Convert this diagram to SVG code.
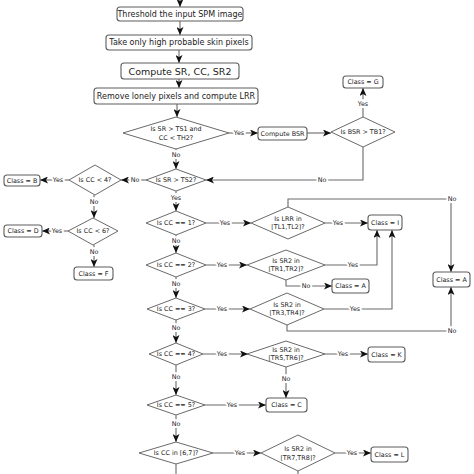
<svg xmlns="http://www.w3.org/2000/svg" width="474" height="474" viewBox="0 0 474 474">
<style>
.bx{fill:#fff;stroke:#5c5c5c;stroke-width:1.1}
.dm{fill:#fff;stroke:#6a6a6a;stroke-width:1}
.ln{fill:none;stroke:#6a6a6a;stroke-width:1.1}
.t{font-family:"DejaVu Sans",Verdana,sans-serif;font-size:6.4px;fill:#222;text-anchor:middle;dominant-baseline:central}
.tb{font-family:"DejaVu Sans",Verdana,sans-serif;font-size:8px;fill:#222;text-anchor:middle;dominant-baseline:central}
.lb{font-family:"DejaVu Sans",Verdana,sans-serif;font-size:6.4px;fill:#222;text-anchor:middle;dominant-baseline:central;paint-order:stroke;stroke:#fff;stroke-width:4px}
</style>
<defs>
<marker id="ar" markerUnits="userSpaceOnUse" markerWidth="8" markerHeight="7" refX="8" refY="3.5" orient="auto">
<path d="M0,0 L8,3.5 L0,7 L2,3.5 z" fill="#111"/>
</marker>
</defs>
<rect width="474" height="474" fill="#fff"/>
<g id="connectors">
<path class="ln" d="M180,0 V7" marker-end="url(#ar)"/>
<path class="ln" d="M180,21 V35" marker-end="url(#ar)"/>
<path class="ln" d="M179,50 V63" marker-end="url(#ar)"/>
<path class="ln" d="M179,79 V88" marker-end="url(#ar)"/>
<path class="ln" d="M177,104 V117" marker-end="url(#ar)"/>
<path class="ln" d="M229,133 H258" marker-end="url(#ar)"/>
<path class="ln" d="M307,133 H331" marker-end="url(#ar)"/>
<path class="ln" d="M363,117 V88" marker-end="url(#ar)"/>
<path class="ln" d="M363,147 V180 H206" marker-end="url(#ar)"/>
<path class="ln" d="M176,149 V169" marker-end="url(#ar)"/>
<path class="ln" d="M146,180 H121" marker-end="url(#ar)"/>
<path class="ln" d="M69,180 H40" marker-end="url(#ar)"/>
<path class="ln" d="M94,195 V218" marker-end="url(#ar)"/>
<path class="ln" d="M68,231 H42" marker-end="url(#ar)"/>
<path class="ln" d="M94,245 V267" marker-end="url(#ar)"/>
<path class="ln" d="M176,191 V211" marker-end="url(#ar)"/>
<path class="ln" d="M206,223 H251" marker-end="url(#ar)"/>
<path class="ln" d="M325,223 H368" marker-end="url(#ar)"/>
<path class="ln" d="M288,207 V199 H451 V272" marker-end="url(#ar)"/>
<path class="ln" d="M176,235 V253" marker-end="url(#ar)"/>
<path class="ln" d="M206,265 H247" marker-end="url(#ar)"/>
<path class="ln" d="M325,265 H377 V230" marker-end="url(#ar)"/>
<path class="ln" d="M286,280 V286 H332" marker-end="url(#ar)"/>
<path class="ln" d="M176,277 V298" marker-end="url(#ar)"/>
<path class="ln" d="M205,309 H250" marker-end="url(#ar)"/>
<path class="ln" d="M324,309 H392 V230" marker-end="url(#ar)"/>
<path class="ln" d="M287,325 V331 H451 V287" marker-end="url(#ar)"/>
<path class="ln" d="M176,320 V343" marker-end="url(#ar)"/>
<path class="ln" d="M203,354 H248" marker-end="url(#ar)"/>
<path class="ln" d="M325,354 H368" marker-end="url(#ar)"/>
<path class="ln" d="M286,367 V398" marker-end="url(#ar)"/>
<path class="ln" d="M176,365 V395" marker-end="url(#ar)"/>
<path class="ln" d="M205,405 H266" marker-end="url(#ar)"/>
<path class="ln" d="M176,415 V442" marker-end="url(#ar)"/>
<path class="ln" d="M213,453 H261" marker-end="url(#ar)"/>
<path class="ln" d="M335,453 H371" marker-end="url(#ar)"/>
<path class="ln" d="M176,464 V474"/>
<path class="ln" d="M298,471 V474"/>
<text class="lb" x="239" y="133">Yes</text>
<text class="lb" x="363" y="104">Yes</text>
<text class="lb" x="322" y="180">No</text>
<text class="lb" x="176" y="155">No</text>
<text class="lb" x="135" y="180">No</text>
<text class="lb" x="58" y="180">Yes</text>
<text class="lb" x="94" y="202">No</text>
<text class="lb" x="57" y="231">Yes</text>
<text class="lb" x="94" y="252">No</text>
<text class="lb" x="176" y="198">Yes</text>
<text class="lb" x="225" y="223">Yes</text>
<text class="lb" x="338" y="223">Yes</text>
<text class="lb" x="452" y="199">No</text>
<text class="lb" x="176" y="241">No</text>
<text class="lb" x="222" y="265">Yes</text>
<text class="lb" x="353" y="265">Yes</text>
<text class="lb" x="306" y="286">No</text>
<text class="lb" x="176" y="284">No</text>
<text class="lb" x="222" y="309">Yes</text>
<text class="lb" x="355" y="309">Yes</text>
<text class="lb" x="452" y="331">No</text>
<text class="lb" x="176" y="328">No</text>
<text class="lb" x="222" y="354">Yes</text>
<text class="lb" x="343" y="354">Yes</text>
<text class="lb" x="286" y="379">No</text>
<text class="lb" x="176" y="377">No</text>
<text class="lb" x="232" y="405">Yes</text>
<text class="lb" x="176" y="424">No</text>
<text class="lb" x="240" y="453">Yes</text>
<text class="lb" x="352" y="453">Yes</text>
</g>
<g id="n-threshold"><rect class="bx" x="117" y="7" width="126" height="14" rx="3"/><text class="tb" x="180" y="14.5">Threshold the input SPM image</text></g>
<g id="n-take"><rect class="bx" x="106" y="35" width="146" height="15" rx="3"/><text class="tb" x="179" y="42.5">Take only high probable skin pixels</text></g>
<g id="n-compute"><rect class="bx" x="121" y="63" width="118" height="16" rx="3"/><text class="tb" x="180" y="71.5" style="font-size:9.5px">Compute SR, CC, SR2</text></g>
<g id="n-remove"><rect class="bx" x="94" y="88" width="164" height="16" rx="3"/><text class="tb" x="176" y="96">Remove lonely pixels and compute LRR</text></g>
<g id="d-sr-ts1"><polygon class="dm" points="176,117 229,133 176,149 123,133"/><text class="t" x="176" y="129">Is SR &gt; TS1 and</text><text class="t" x="176" y="138">CC &lt; TH2?</text></g>
<g id="n-bsr"><rect class="bx" x="258" y="127" width="49" height="13" rx="3"/><text class="t" x="282.5" y="133.5">Compute BSR</text></g>
<g id="d-bsr"><polygon class="dm" points="363,117 395,132 363,147 331,132"/><text class="t" x="363" y="132">Is BSR &gt; TB1?</text></g>
<g id="n-g"><rect class="bx" x="343" y="76" width="40" height="12" rx="3"/><text class="t" x="363" y="82">Class = G</text></g>
<g id="d-sr-ts2"><polygon class="dm" points="176,169 206,180 176,191 146,180"/><text class="t" x="176" y="180">Is SR &gt; TS2?</text></g>
<g id="d-cc4l"><polygon class="dm" points="95,165 121,180 95,195 69,180"/><text class="t" x="95" y="180">Is CC &lt; 4?</text></g>
<g id="n-b"><rect class="bx" x="4" y="175" width="36" height="11" rx="3"/><text class="t" x="22" y="180.5">Class = B</text></g>
<g id="d-cc6"><polygon class="dm" points="93,218 118,231 93,245 68,231"/><text class="t" x="93" y="231">Is CC &lt; 6?</text></g>
<g id="n-d"><rect class="bx" x="4" y="225" width="38" height="12" rx="3"/><text class="t" x="23" y="231">Class = D</text></g>
<g id="n-f"><rect class="bx" x="74" y="267" width="39" height="13" rx="3"/><text class="t" x="93.5" y="273.5">Class = F</text></g>
<g id="d-cc1"><polygon class="dm" points="176,211 206,223 176,235 146,223"/><text class="t" x="176" y="223">Is CC == 1?</text></g>
<g id="d-lrr"><polygon class="dm" points="288,207 325,223 288,239 251,223"/><text class="t" x="288" y="219">Is LRR in</text><text class="t" x="288" y="227">[TL1,TL2]?</text></g>
<g id="n-i"><rect class="bx" x="368" y="215" width="34" height="15" rx="3"/><text class="t" x="385" y="222.5">Class = I</text></g>
<g id="n-a2"><rect class="bx" x="433" y="272" width="37" height="15" rx="3"/><text class="t" x="451.5" y="279.5">Class = A</text></g>
<g id="d-cc2"><polygon class="dm" points="176,253 206,265 176,277 146,265"/><text class="t" x="176" y="265">Is CC == 2?</text></g>
<g id="d-tr12"><polygon class="dm" points="286,250 325,265 286,280 247,265"/><text class="t" x="286" y="261">Is SR2 in</text><text class="t" x="286" y="269">[TR1,TR2]?</text></g>
<g id="n-a1"><rect class="bx" x="332" y="279" width="37" height="14" rx="3"/><text class="t" x="350.5" y="286">Class = A</text></g>
<g id="d-cc3"><polygon class="dm" points="176,298 205,309 176,320 147,309"/><text class="t" x="176" y="309">Is CC == 3?</text></g>
<g id="d-tr34"><polygon class="dm" points="287,293 324,309 287,325 250,309"/><text class="t" x="287" y="305">Is SR2 in</text><text class="t" x="287" y="313">[TR3,TR4]?</text></g>
<g id="d-cc4"><polygon class="dm" points="176,343 203,354 176,365 149,354"/><text class="t" x="176" y="354">Is CC == 4?</text></g>
<g id="d-tr56"><polygon class="dm" points="286,341 325,354 286,367 247,354"/><text class="t" x="286" y="350">Is SR2 in</text><text class="t" x="286" y="358">[TR5,TR6]?</text></g>
<g id="n-k"><rect class="bx" x="368" y="347" width="37" height="15" rx="3"/><text class="t" x="386.5" y="354.5">Class = K</text></g>
<g id="d-cc5"><polygon class="dm" points="176,395 205,405 176,415 147,405"/><text class="t" x="176" y="405">Is CC == 5?</text></g>
<g id="n-c"><rect class="bx" x="266" y="398" width="41" height="14" rx="3"/><text class="t" x="286.5" y="405">Class = C</text></g>
<g id="d-cc67"><polygon class="dm" points="176,442 213,453 176,464 139,453"/><text class="t" x="176" y="453">Is CC in [6,7]?</text></g>
<g id="d-tr78"><polygon class="dm" points="298,435 335,453 298,471 261,453"/><text class="t" x="298" y="449">Is SR2 in</text><text class="t" x="298" y="458">[TR7,TR8]?</text></g>
<g id="n-l"><rect class="bx" x="371" y="447" width="37" height="15" rx="3"/><text class="t" x="389.5" y="454.5">Class = L</text></g>
</svg>
